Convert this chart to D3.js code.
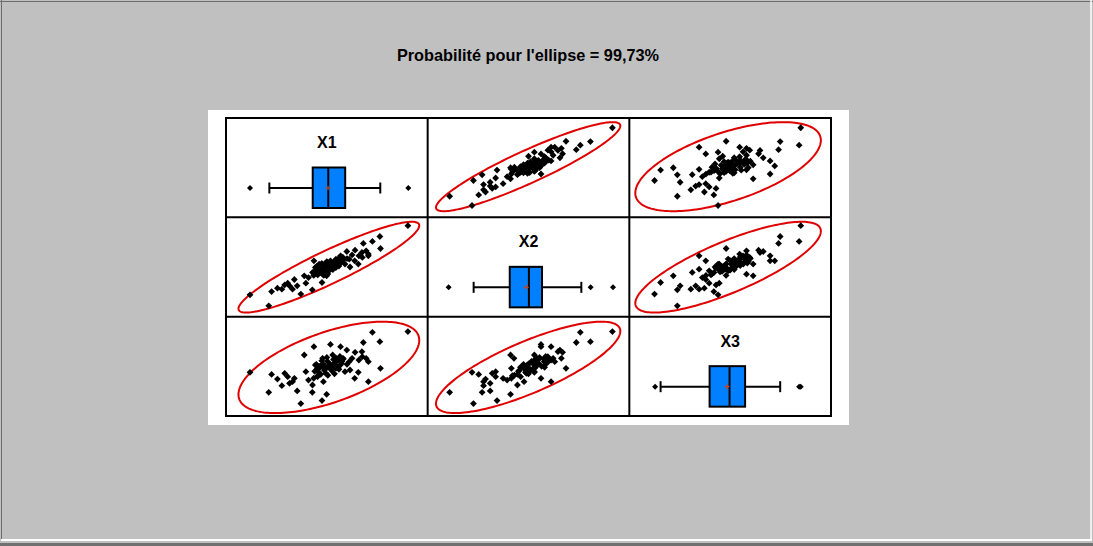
<!DOCTYPE html>
<html><head><meta charset="utf-8">
<script src="https://cdn.jsdelivr.net/npm/d3@7"></script>
<style>
body{margin:0;background:#c0c0c0;overflow:hidden;}
svg{display:block;font-family:"Liberation Sans",Arial,sans-serif;}
</style>
</head><body>
<svg id="chart" width="1093" height="546"></svg>
<script>
// ---------- data ----------
const title = "Probabilité pour l'ellipse = 99,73%";
const variables = ["X1", "X2", "X3"];
const probability = 0.9973;

const x1 = [11.9,21.2,22.6,25.5,27.7,29.1,30.6,31.5,33.0,33.9,35.3,37.1,38.8,39.6,40.9,42.9,42.8,43.6,44.3,45.4,
  46.2,47.6,47.9,48.3,49.5,49.9,51.4,51.8,52.9,54.5,54.5,56.7,56.8,58.0,59.0,59.9,61.1,61.5,62.5,64.0,
  63.8,65.6,65.9,67.6,67.4,68.1,70.6,69.5,70.6,72.6,76.3,76.6,90.2,
  44.0,45.5,46.5,47.0,48.0,48.8,49.5,50.3,51.0,51.8,52.5,53.3,54.0,55.0,55.8,56.5,57.3,58.2,45.0,47.5,
  50.5,53.0,43.5,56.0,60.0,46.0,49.0,52.0,54.5,57.5,44.8,50.0,53.8,48.5,55.5];
const x2 = [22.0,10.9,25.3,28.7,27.7,32.0,33.7,31.0,27.7,37.4,31.0,22.7,41.1,33.7,39.4,44.5,27.0,56.2,49.5,46.1,
  52.9,34.4,42.8,47.8,52.9,41.1,49.5,56.2,52.9,49.5,57.9,54.5,61.2,59.6,52.9,65.6,57.9,50.0,62.2,66.9,
  56.2,52.9,61.2,59.6,64.6,73.7,61.2,66.3,63.0,75.7,80.7,68.6,91.6,
  45.0,42.0,47.0,44.5,50.0,45.5,49.0,51.5,46.0,53.5,50.5,55.0,52.0,56.5,53.0,58.5,55.0,57.5,50.5,53.5,
  43.0,47.5,41.5,51.0,58.5,48.5,53.0,48.0,54.0,60.0,47.5,55.5,50.0,41.5,58.0];
const x3 = [44.0,23.8,41.9,37.2,30.5,43.0,39.6,32.9,34.6,37.9,25.2,12.5,61.4,44.6,36.2,31.2,23.8,69.8,51.3,39.6,
  48.0,15.5,58.1,34.6,48.0,21.8,51.3,72.1,61.4,48.0,54.7,51.3,69.8,58.1,44.6,66.4,54.7,46.3,58.1,64.1,
  37.9,44.0,56.4,59.7,64.8,74.0,34.6,58.1,54.7,84.2,74.8,48.0,85.0,
  45.0,40.5,50.0,42.0,52.5,46.0,43.0,55.0,49.0,52.0,45.5,57.0,53.5,50.0,56.5,60.0,53.0,57.5,47.0,55.5,
  41.0,50.0,38.0,47.0,52.0,44.0,50.5,47.5,58.5,55.0,52.0,59.0,42.5,48.0,49.0];

// box-plot statistics (one entry per variable)
const boxQ1 = [43.0, 40.7, 39.8];
const boxMedian = [50.7, 50.2, 49.7];
const boxQ3 = [59.1, 56.7, 57.4];
const whiskerLow = [21.5, 22.8, 15.5];
const whiskerHigh = [76.5, 76.2, 74.8];
const boxMean = [50.6, 48.9, 48.5];
const outliersX1 = [11.9, 90.4];
const outliersX2 = [10.4, 80.8, 91.9];
const outliersX3 = [12.8, 84.2, 85.0];

// ---------- layout ----------
const W = 1093, H = 546;
const svg = d3.select("#chart");
const series = [x1, x2, x3];
const outliers = [outliersX1, outliersX2, outliersX3];
const gx0 = 226, gx1 = 831, gy0 = 118, gy1 = 416;
const n = variables.length;
const cw = (gx1 - gx0) / n, rh = (gy1 - gy0) / n;

// page background + frame
svg.append("rect").attr("width", W).attr("height", H).attr("fill", "#c0c0c0");
svg.append("line").attr("x1", 0).attr("x2", W).attr("y1", 1.5).attr("y2", 1.5).attr("stroke", "#6e6e6e").attr("stroke-width", 1);
svg.append("line").attr("x1", 1.5).attr("x2", 1.5).attr("y1", 0).attr("y2", 540).attr("stroke", "#6e6e6e").attr("stroke-width", 1);
svg.append("line").attr("x1", 1091).attr("x2", 1091).attr("y1", 0).attr("y2", 541).attr("stroke", "#ffffff").attr("stroke-width", 1.5);
svg.append("line").attr("x1", 1).attr("x2", 1092).attr("y1", 540).attr("y2", 540).attr("stroke", "#ffffff").attr("stroke-width", 2);
svg.append("rect").attr("x", 0).attr("y", 543).attr("width", W).attr("height", 3).attr("fill", "#707070");

// title
svg.append("text").attr("x", 528).attr("y", 61).attr("text-anchor", "middle")
  .attr("font-size", 16.3).attr("font-weight", "bold").attr("fill", "#000").text(title);

// white plot area
svg.append("rect").attr("x", 208).attr("y", 110).attr("width", 641).attr("height", 315).attr("fill", "#ffffff");

const xScales = d3.range(n).map(j => d3.scaleLinear().domain([0, 100]).range([gx0 + j * cw, gx0 + (j + 1) * cw]));
const yScales = d3.range(n).map(i => d3.scaleLinear().domain([0, 100]).range([gy0 + (i + 1) * rh, gy0 + i * rh]));

const k = Math.sqrt(-2 * Math.log(1 - probability));
const diamond = s => `M0,${-s}L${s},0L0,${s}L${-s},0Z`;

for (let i = 0; i < n; i++) {
  for (let j = 0; j < n; j++) {
    const g = svg.append("g");
    const top = gy0 + i * rh, left = gx0 + j * cw;
    if (i === j) {
      const xs = xScales[j];
      g.append("text").attr("x", left + cw / 2).attr("y", top + 30).attr("text-anchor", "middle")
        .attr("font-size", 16).attr("font-weight", "bold").text(variables[i]);
      const cy = top + 70, bt = top + 49.5, bb = top + 90;
      // whiskers
      g.append("line").attr("x1", xs(whiskerLow[i])).attr("x2", xs(boxQ1[i])).attr("y1", cy).attr("y2", cy).attr("stroke", "#000").attr("stroke-width", 2);
      g.append("line").attr("x1", xs(boxQ3[i])).attr("x2", xs(whiskerHigh[i])).attr("y1", cy).attr("y2", cy).attr("stroke", "#000").attr("stroke-width", 2);
      [whiskerLow[i], whiskerHigh[i]].forEach(v => {
        g.append("line").attr("x1", xs(v)).attr("x2", xs(v)).attr("y1", cy - 5.5).attr("y2", cy + 5.5).attr("stroke", "#000").attr("stroke-width", 2);
      });
      g.append("rect").attr("x", xs(boxQ1[i])).attr("y", bt).attr("width", xs(boxQ3[i]) - xs(boxQ1[i])).attr("height", bb - bt)
        .attr("fill", "#0080ff").attr("stroke", "#000").attr("stroke-width", 2);
      g.append("line").attr("x1", xs(boxMedian[i])).attr("x2", xs(boxMedian[i])).attr("y1", bt).attr("y2", bb).attr("stroke", "#000").attr("stroke-width", 2);
      const mx = xs(boxMean[i]);
      g.append("path").attr("d", `M${mx - 2.5},${cy}H${mx + 2.5}M${mx},${cy - 2.5}V${cy + 2.5}`).attr("stroke", "#d04010").attr("stroke-width", 1.2);
      g.selectAll("path.out").data(outliers[i]).enter().append("path").attr("class", "out")
        .attr("transform", v => `translate(${xs(v)},${cy})`).attr("d", diamond(3)).attr("fill", "#000");
    } else {
      const xs = xScales[j], ys = yScales[i];
      const X = series[j], Y = series[i];
      const m = X.length;
      const mx = d3.mean(X), my = d3.mean(Y);
      let sxx = 0, syy = 0, sxy = 0;
      for (let t = 0; t < m; t++) { sxx += (X[t] - mx) ** 2; syy += (Y[t] - my) ** 2; sxy += (X[t] - mx) * (Y[t] - my); }
      sxx /= (m - 1); syy /= (m - 1); sxy /= (m - 1);
      const L11 = Math.sqrt(sxx), L21 = sxy / L11, L22 = Math.sqrt(syy - L21 * L21);
      const pts = d3.range(0, 360, 2).map(a => {
        const th = a * Math.PI / 180;
        return [mx + k * L11 * Math.cos(th), my + k * (L21 * Math.cos(th) + L22 * Math.sin(th))];
      });
      g.append("path").attr("d", d3.line().x(d => xs(d[0])).y(d => ys(d[1])).curve(d3.curveLinearClosed)(pts))
        .attr("fill", "none").attr("stroke", "#e00000").attr("stroke-width", 2);
      g.selectAll("path.pt").data(d3.range(m)).enter().append("path").attr("class", "pt")
        .attr("transform", t => `translate(${xs(X[t])},${ys(Y[t])})`).attr("d", diamond(3.4)).attr("fill", "#000");
    }
  }
}

// grid
const grid = svg.append("g").attr("stroke", "#000").attr("stroke-width", 2);
for (let j = 0; j <= n; j++) grid.append("line").attr("x1", gx0 + j * cw).attr("x2", gx0 + j * cw).attr("y1", gy0).attr("y2", gy1);
for (let i = 0; i <= n; i++) grid.append("line").attr("x1", gx0 - 1).attr("x2", gx1 + 1).attr("y1", gy0 + i * rh).attr("y2", gy0 + i * rh);
</script>
</body></html>
